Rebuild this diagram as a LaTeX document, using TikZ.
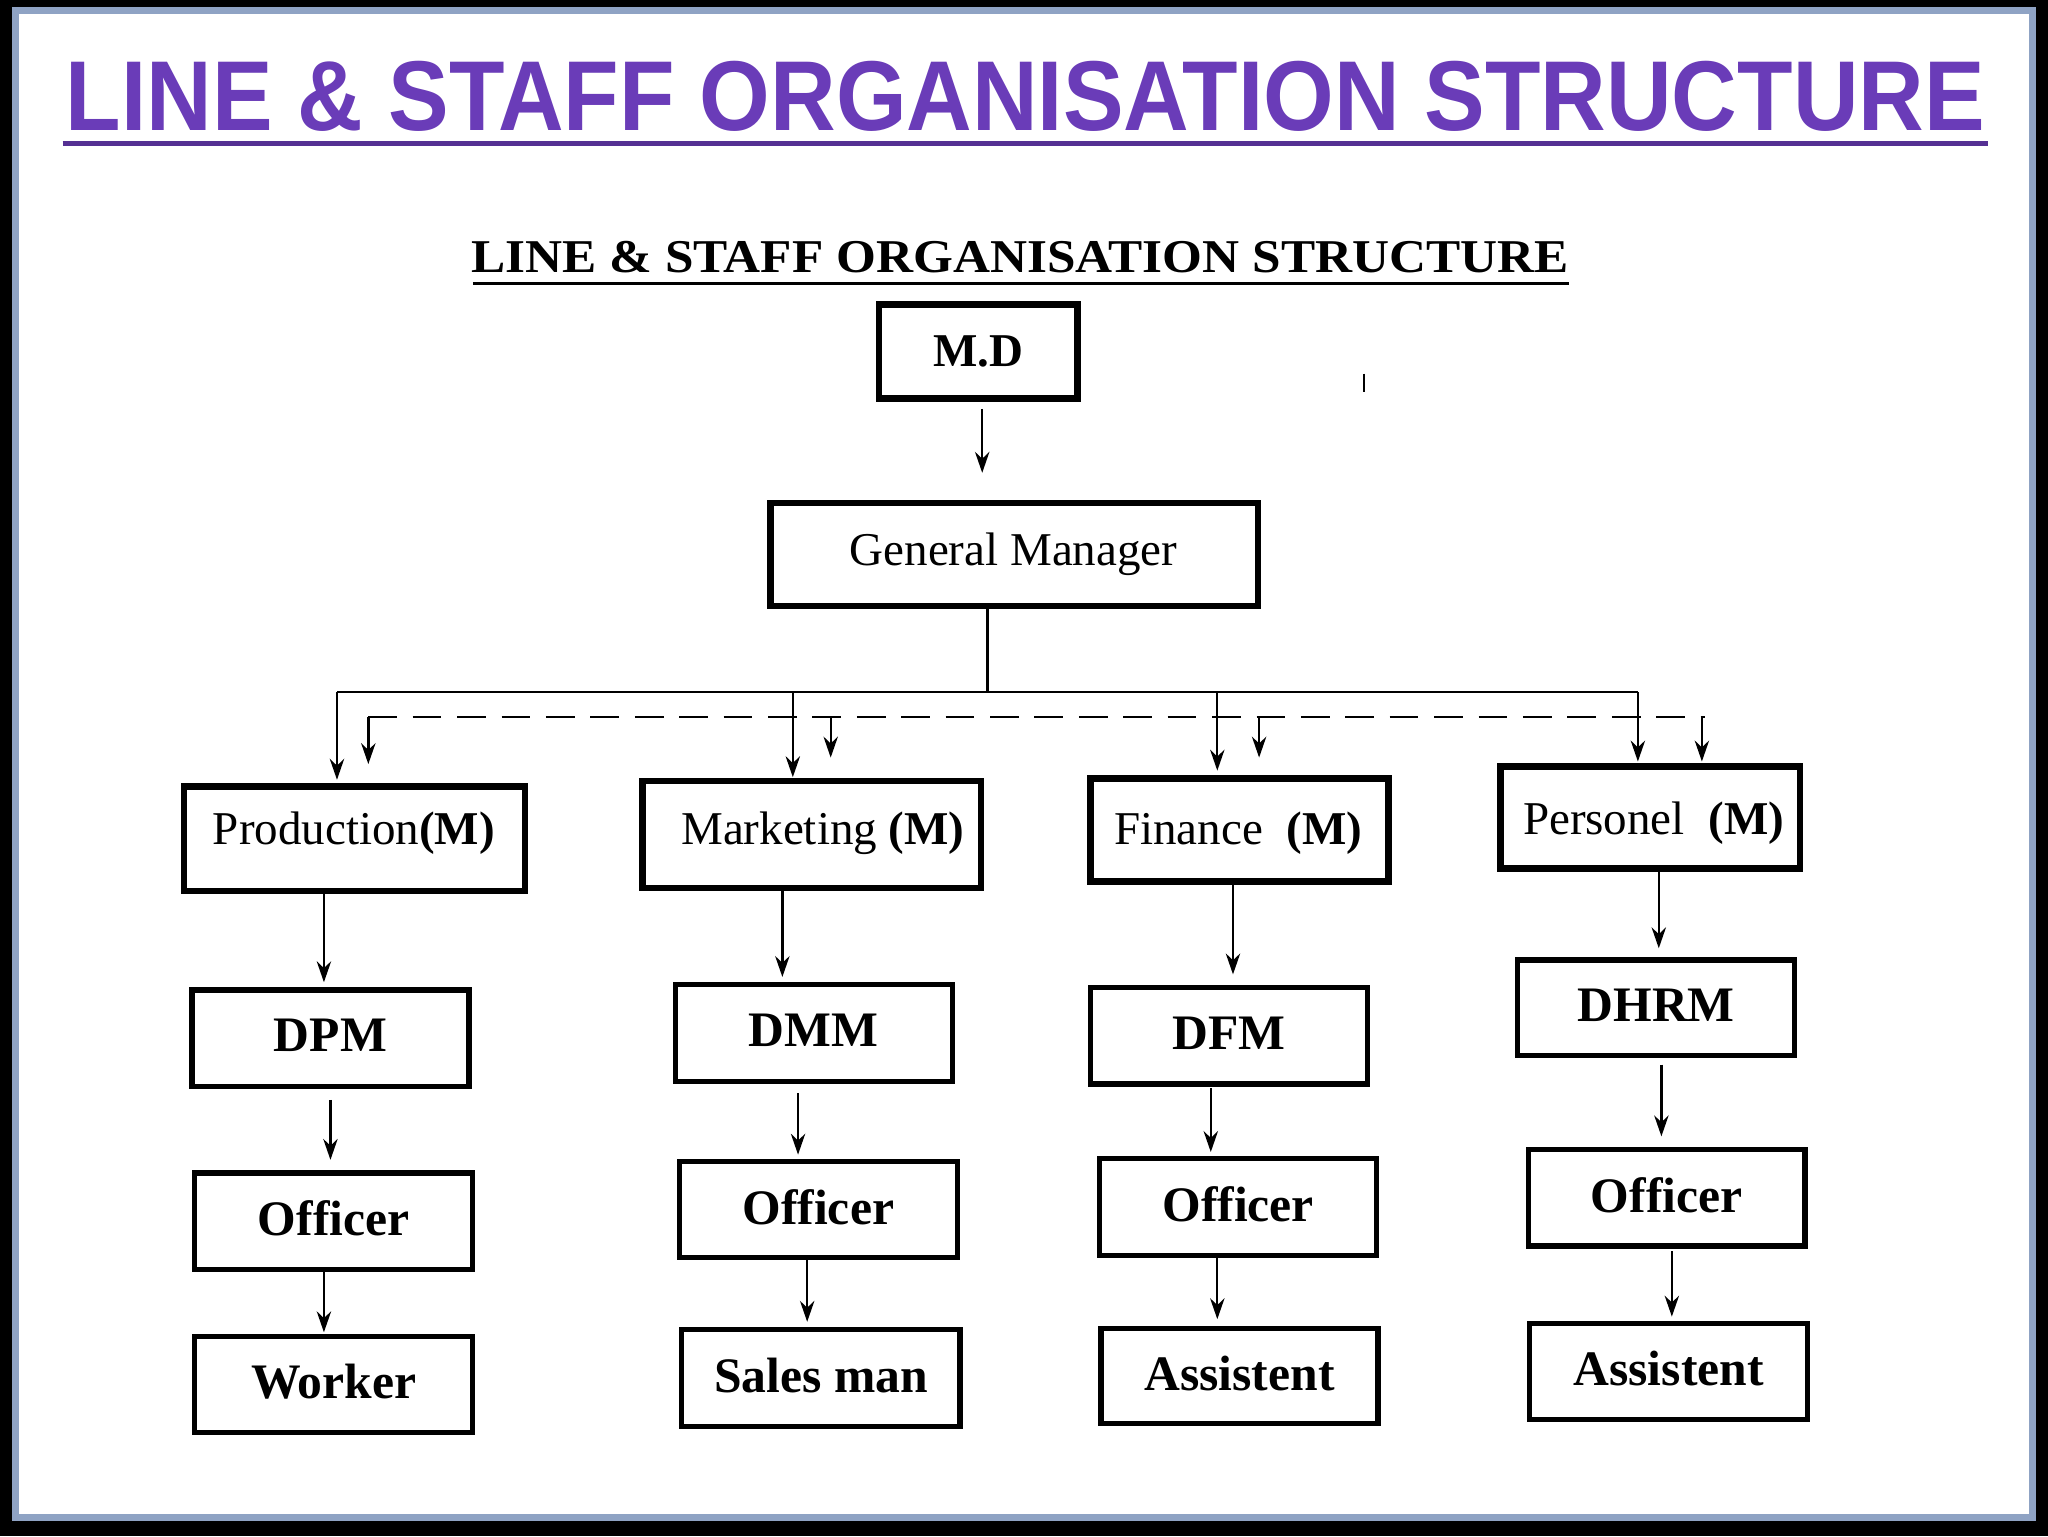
\documentclass[tikz,border=0pt]{standalone}
\usepackage{fontspec}
\setmainfont{Liberation Serif}
\newfontfamily\titlefont{Liberation Sans}
\usetikzlibrary{arrows.meta}
\definecolor{ttl}{HTML}{6A3CB8}
\definecolor{frm}{HTML}{8FA3C4}
\tikzset{
  bx/.style={draw,line width=4pt,inner sep=0pt},
  thk/.style={draw,line width=5pt,inner sep=0pt},
  ar/.style={-{Stealth[length=16pt,width=11pt]},line width=1.8pt},
  lbl/.style={font=\fontsize{38}{40}\selectfont\bfseries},
  mlbl/.style={font=\fontsize{36}{40}\selectfont},
}
\begin{document}
\begin{tikzpicture}[x=1pt,y=-1pt]
\fill[black] (0,0) rectangle (1568,1176);
\draw[frm,line width=5pt,fill=white] (12,8) rectangle (1556,1162);
\useasboundingbox (0,0) rectangle (1568,1176);
% titles
\node[text=ttl,font=\titlefont\fontsize{76}{80}\selectfont\bfseries] (title) at (785,74) {\scalebox{0.915}[1]{LINE \& STAFF ORGANISATION STRUCTURE}};
\draw[ttl!80!black,line width=4pt] (48,110) -- (1522,110);
\node[font=\fontsize{36}{36}\selectfont\bfseries] (sub) at (781,197) {\scalebox{1.09}[1]{LINE \& STAFF ORGANISATION STRUCTURE}};
\draw[line width=2pt] (362,217) -- (1201,217);
% boxes
\draw[thk] (673,233) rectangle (825,305);
\node[font=\fontsize{36}{40}\selectfont\bfseries] (md) at (749,269) {M.D};
\draw[thk] (590,385) rectangle (963,464);
\node[mlbl] (gm) at (776,424) {General Manager};
\coordinate (mdb) at (752,313); \coordinate (gmt) at (752,362);
\draw[ar] (mdb) -- (gmt);
% managers
\draw[thk] (141,602) rectangle (402,682); \node[mlbl] (pm) at (271,638) {Production\textbf{(M)}};
\draw[thk] (492,598) rectangle (751,680); \node[mlbl] (mm) at (630,638) {Marketing \textbf{(M)}};
\draw[thk] (835,596) rectangle (1063,675); \node[mlbl] (fm) at (948,638) {Finance \ \textbf{(M)}};
\draw[thk] (1149,587) rectangle (1378,665); \node[mlbl] (hm) at (1266,630) {Personel \ \textbf{(M)}};
% connectors from GM
\coordinate (g0) at (756,464); \coordinate (g1) at (756,530);
\draw[line width=1.8pt] (g0) -- (g1);
\draw[line width=1.8pt] (258,530) -- (1254,530);
\foreach \x/\y in {258/597,607/595,932/590,1254/583} \draw[ar] (\x,530) -- (\x,\y);
\draw[line width=1.8pt,dash pattern=on 22pt off 12pt] (282,549) -- (1305,549);
\foreach \x/\y in {282/585,636/580,964/580,1303/583} \draw[ar] (\x,549) -- (\x,\y);
% levels
\foreach \a/\b/\c/\d/\t in {147/758/359/832/DPM,517/754/729/828/DMM,835/756/1047/830/DFM,1162/735/1374/808/DHRM,
 149/898/362/972/Officer,520/889/733/963/Officer,842/887/1054/961/Officer,1170/880/1382/954/Officer,
 149/1023/362/1097/Worker,522/1018/735/1092/Sales man,843/1017/1055/1090/Assistent,1171/1013/1384/1087/Assistent}{
  \draw[bx] (\a,\b) rectangle (\c,\d);
  \node[lbl] at ({(\a+\c)/2},{(\b+\d)/2-2}) {\t};
}
\foreach \x/\p/\q in {248/682/752,599/682/748,944/677/746,1270/667/726,
 253/842/888,611/837/884,927/833/882,1272/815/870,
 248/972/1020,618/963/1012,932/961/1010,1280/958/1008} \draw[ar] (\x,\p) -- (\x,\q);
\draw[line width=1.5pt] (1044,286) -- (1044,300);
\end{tikzpicture}
\end{document}
